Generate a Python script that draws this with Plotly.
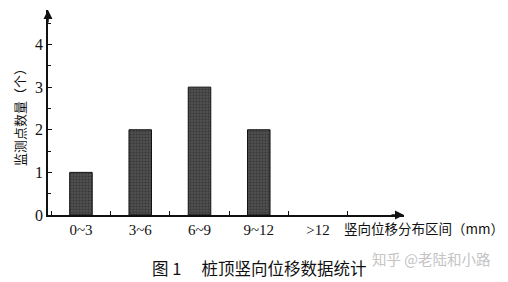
import plotly.graph_objects as go

categories = ["0~3", "3~6", "6~9", "9~12", ">12"]
counts = [1, 2, 3, 2, 0]
y_ticks = [0, 1, 2, 3, 4]

serif = "Liberation Serif, Times New Roman, serif"
cjk = "Noto Sans CJK SC, sans-serif"

fig = go.Figure()
fig.add_trace(go.Bar(
    x=categories, y=counts, width=0.38,
    marker=dict(color="#444444",
                line=dict(color="#111111", width=[1 if c > 0 else 0 for c in counts]),
                pattern=dict(shape=".", fgcolor="#1e1e1e", bgcolor="#505050", size=3, solidity=0.4)),
))

fig.update_layout(
    width=508, height=282,
    margin=dict(l=48, r=104, t=10, b=67),
    paper_bgcolor="white", plot_bgcolor="white",
    showlegend=False,
    xaxis=dict(
        type="category", range=[-0.556, 5.45],
        showline=True, linecolor="#111111", linewidth=1.5,
        ticks="inside", tickson="boundaries", ticklen=4, tickcolor="#111111",
        showgrid=False, zeroline=False,
        tickfont=dict(family=serif, size=15, color="#111111"),
    ),
    yaxis=dict(
        range=[0, 4.81], tickvals=y_ticks,
        showline=True, linecolor="#111111", linewidth=1.5,
        ticks="inside", ticklen=4, tickcolor="#111111",
        minor=dict(dtick=0.5, ticks="inside", ticklen=3, tickcolor="#111111"),
        showgrid=False, zeroline=False,
        tickfont=dict(family=serif, size=16, color="#111111"),
    ),
)

# axis arrows
fig.add_annotation(xref="paper", yref="paper", x=1.0, y=0, ax=-14, ay=0,
                   showarrow=True, arrowhead=2, arrowsize=1.2, arrowwidth=1.5,
                   arrowcolor="#111111", text="")
fig.add_annotation(xref="paper", yref="paper", x=0, y=1.0, ax=0, ay=14,
                   showarrow=True, arrowhead=2, arrowsize=1.2, arrowwidth=1.5,
                   arrowcolor="#111111", text="")

fig.add_annotation(xref="paper", yref="paper", x=-0.0787, y=0.493, textangle=-90,
                   xanchor="center", yanchor="middle",
                   text="监测点数量（个）", showarrow=False,
                   font=dict(family=cjk, size=13, color="#111111"))
fig.add_annotation(xref="paper", yref="paper", x=0.826, y=-0.063,
                   xanchor="left", yanchor="middle",
                   text="竖向位移分布区间（mm）", showarrow=False,
                   font=dict(family=cjk, size=13.5, color="#111111"))
fig.add_annotation(xref="paper", yref="paper", x=0.5955, y=-0.2585,
                   xanchor="center", yanchor="middle",
                   text="图 1　 桩顶竖向位移数据统计", showarrow=False,
                   font=dict(family=cjk, size=16.5, color="#111111"))
fig.add_annotation(xref="paper", yref="paper", x=1.076, y=-0.21,
                   xanchor="center", yanchor="middle",
                   text="知乎 @老陆和小路", showarrow=False,
                   font=dict(family=cjk, size=14.5, color="#c4c4c4"))

fig.write_html("out.html")
